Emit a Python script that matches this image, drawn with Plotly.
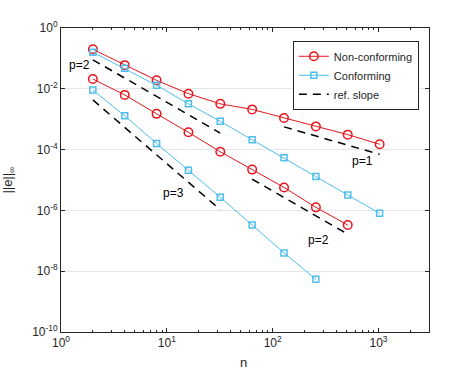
import math
import plotly.graph_objects as go

n_nc1 = [2, 4, 8, 16, 32, 64, 128, 256, 512, 1024]
e_nc1 = [0.2, 0.06, 0.019, 0.0069, 0.0032, 0.0021, 0.0011, 5.8e-4, 3.1e-4, 1.5e-4]
n_c1 = [2, 4, 8, 16, 32, 64, 128, 256, 512, 1024]
e_c1 = [0.16, 0.047, 0.013, 0.0032, 8.5e-4, 2.1e-4, 5.4e-5, 1.3e-5, 3.2e-6, 8e-7]
n_nc2 = [2, 4, 8, 16, 32, 64, 128, 256, 512]
e_nc2 = [0.021, 0.0063, 0.0015, 3.7e-4, 8.5e-5, 2.2e-5, 5.7e-6, 1.26e-6, 3.3e-7]
n_c2 = [2, 4, 8, 16, 32, 64, 128, 256]
e_c2 = [0.0091, 0.0013, 1.6e-4, 2.1e-5, 2.7e-6, 3.3e-7, 4e-8, 5.4e-9]

# reference slopes
ref_p2a_n = [2, 32]
ref_p2a_e = [0.09, 3.5e-4]
ref_p3_n = [2, 32]
ref_p3_e = [0.0043, 1.05e-6]
ref_p1_n = [128, 1024]
ref_p1_e = [5.6e-4, 7e-5]
ref_p2b_n = [64, 512]
ref_p2b_e = [1.06e-5, 1.66e-7]

slope_labels = ["p=2", "p=3", "p=1", "p=2"]
slope_label_n = [1.48, 11.5, 707, 270]
slope_label_e = [0.06, 3.7e-6, 4.2e-5, 1.07e-7]

y_tickvals = [1, 1e-2, 1e-4, 1e-6, 1e-8, 1e-10]
y_ticktext = ["10<sup>0</sup>", "10<sup>-2</sup>", "10<sup>-4</sup>", "10<sup>-6</sup>",
              "10<sup>-8</sup>", "10<sup>-10</sup>"]
x_tickvals = [1, 10, 100, 1000]
x_ticktext = ["10<sup>0</sup>", "10<sup>1</sup>", "10<sup>2</sup>", "10<sup>3</sup>"]
x_minor = [m * 10 ** k for k in range(0, 4) for m in range(2, 10) if m * 10 ** k <= 3000]

RED = "#e8141c"
BLUE = "#4dbeee"
AX = "#262626"
FONT = "Liberation Sans, Arial, sans-serif"

fig = go.Figure()

def add_series(x, y, color, symbol, size, name, show):
    fig.add_trace(go.Scatter(
        x=x, y=y, mode="lines+markers", name=name, showlegend=show,
        line=dict(color=color, width=1),
        marker=dict(symbol=symbol, size=size, color=color,
                    line=dict(color=color, width=1.5)),
        legendgroup=name,
    ))

add_series(n_nc1, e_nc1, RED, "circle-open", 8.5, "Non-conforming", True)
add_series(n_c1, e_c1, BLUE, "square-open", 6, "Conforming", True)
add_series(n_nc2, e_nc2, RED, "circle-open", 8.5, "Non-conforming", False)
add_series(n_c2, e_c2, BLUE, "square-open", 6, "Conforming", False)

for i, (xs, ys) in enumerate([(ref_p2a_n, ref_p2a_e), (ref_p3_n, ref_p3_e),
                              (ref_p1_n, ref_p1_e), (ref_p2b_n, ref_p2b_e)]):
    fig.add_trace(go.Scatter(
        x=xs, y=ys, mode="lines", name="ref. slope", showlegend=(i == 0),
        legendgroup="ref", line=dict(color="black", width=1.5, dash="8px,6px"),
    ))

for t, xv, yv in zip(slope_labels, slope_label_n, slope_label_e):
    fig.add_annotation(x=math.log10(xv), y=math.log10(yv), xref="x", yref="y", text=t,
                       showarrow=False, font=dict(size=12, color="black", family=FONT),
                       xanchor="center", yanchor="middle")

# x-axis title
fig.add_annotation(x=0.497, y=-0.099, xref="paper", yref="paper", text="n",
                   showarrow=False, font=dict(size=13, color=AX, family=FONT),
                   xanchor="center", yanchor="middle")

fig.update_xaxes(
    type="log", range=[0, 3.477], tickmode="array", tickvals=x_tickvals, ticktext=x_ticktext,
    ticks="inside", ticklen=4, tickcolor=AX, showline=True, linecolor=AX, linewidth=1,
    mirror="ticks", showgrid=False, zeroline=False, automargin=False,
    minor=dict(tickmode="array", tickvals=x_minor, ticks="inside", ticklen=2,
               tickcolor=AX, showgrid=False),
    tickfont=dict(size=12, color=AX, family=FONT),
)
fig.update_yaxes(
    type="log", range=[-10, 0], tickmode="array", tickvals=y_tickvals, ticktext=y_ticktext,
    ticks="inside", ticklen=4, tickcolor=AX, showline=True, linecolor=AX, linewidth=1,
    mirror="ticks", showgrid=True, gridcolor="#e6e6e6", gridwidth=1, zeroline=False,
    automargin=False,
    title=dict(text="||e||<sub>∞</sub>", font=dict(size=13, color=AX, family=FONT), standoff=17),
    tickfont=dict(size=12, color=AX, family=FONT),
)

fig.update_layout(
    width=474, height=373,
    margin=dict(l=61, r=45, t=28, b=41),
    paper_bgcolor="white", plot_bgcolor="white",
    font=dict(family=FONT, size=12, color=AX),
    legend=dict(x=0.63, y=0.958, xanchor="left", yanchor="top",
                bgcolor="white", bordercolor=AX, borderwidth=1,
                font=dict(size=11, color=AX, family=FONT),
                tracegroupgap=0, itemwidth=30),
)

fig.write_html("out.html", config={"displayModeBar": False},
               post_script="document.body.style.margin='0';")
